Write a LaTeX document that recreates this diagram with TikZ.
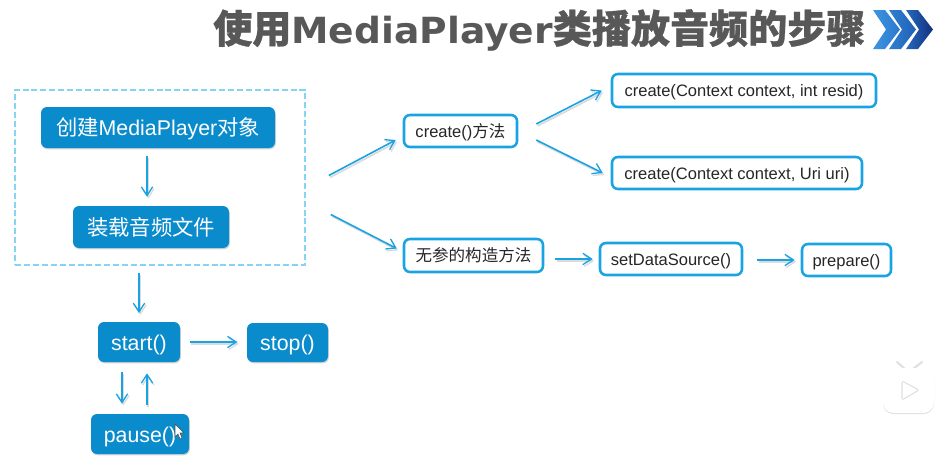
\documentclass[tikz,border=0pt]{standalone}
\usepackage{fontspec}
\setmainfont{Liberation Sans}
\newfontfamily\cjkfont{Noto Sans CJK SC}
\newfontfamily\titlecjk[BoldFeatures={FakeBold=0.8}]{Noto Sans CJK SC}
\newfontfamily\titlefont[FakeStretch=1.045]{DejaVu Sans Bold}
\usetikzlibrary{arrows.meta,shadows}
\definecolor{fillblue}{HTML}{0A8BCC}
\definecolor{lineblue}{HTML}{1AA3E3}
\definecolor{dashblue}{HTML}{85D3F5}
\definecolor{titlegray}{HTML}{585858}
\tikzset{
	>={Straight Barb[length=6.5pt,width=8.5pt,line width=1pt]},
	boxsize/.style 2 args={minimum width=#1*0.75pt,minimum height=#2*0.75pt,inner sep=0pt},
	solidbox/.style={rounded corners=4.5pt,fill=fillblue,text=white,text height=12pt,text depth=0pt,font=\fontsize{16}{18}\selectfont,
		drop shadow={shadow xshift=0.6pt,shadow yshift=-1pt,opacity=0.35}},
	linebox/.style={rounded corners=4.5pt,draw=lineblue,line width=1.9pt,fill=white,text=black!85,text height=9.5pt,text depth=0pt,
		font=\fontsize{12.4}{14}\selectfont},
	arrowline/.style={->,lineblue,line width=1.2pt,
		preaction={draw=black!14,line width=1.3pt,transform canvas={xshift=1pt,yshift=-1.4pt}}},
}
\begin{document}
\begin{tikzpicture}[x=0.75pt,y=-0.75pt]
	\useasboundingbox (0,0) rectangle (935,455);
	\node[anchor=west,text=titlegray,inner sep=0pt] (title) at (213,30) {\fontsize{29.3}{32}\selectfont\titlecjk\bfseries 使用{\fontsize{27}{32}\selectfont\titlefont MediaPlayer}类播放音频的步骤};
	\foreach \cx/\colleft/\colright in {873/3F95E0/2A78CC,889/2F80D2/2060B4,906/2668BC/14307F}{
		\definecolor{cleft}{HTML}{\colleft}
		\definecolor{cright}{HTML}{\colright}
		\shade[left color=cleft,right color=cright] (\cx,10) -- (\cx+12,10) -- (\cx+27,29.5) -- (\cx+12,49) -- (\cx,49) -- (\cx+13,29.5) -- cycle;
	}
	\node[boxsize={290}{175},draw=dashblue,line width=1.2pt,dash pattern=on 4.5pt off 2.2pt] (group) at (160,177.5) {};
	\node[solidbox,boxsize={234}{41}] (newplayer) at (158,127.5) {{\cjkfont 创建}MediaPlayer{\cjkfont 对象}};
	\node[solidbox,boxsize={156}{42}] (load) at (151,227) {\cjkfont 装载音频文件};
	\node[solidbox,boxsize={82}{40}] (start) at (139,342) {start()};
	\node[solidbox,boxsize={81}{39}] (stop) at (287.5,342.5) {stop()};
	\node[solidbox,boxsize={98}{40}] (pause) at (140,434) {pause()};
	\node[linebox,boxsize={113}{32}] (create) at (460.5,131) {create(){\cjkfont 方法}};
	\node[linebox,boxsize={264}{33}] (ctxres) at (744,90.5) {create(Context context, int resid)};
	\node[linebox,boxsize={250}{32}] (ctxuri) at (737,173) {create(Context context, Uri uri)};
	\node[linebox,boxsize={139}{33}] (noarg) at (473.5,255.5) {\cjkfont 无参的构造方法};
	\node[linebox,boxsize={142}{32}] (source) at (671,259) {setDataSource()};
	\node[linebox,boxsize={89}{32}] (prepare) at (846.5,260) {prepare()};
	\draw[arrowline] ([shift={(-11,8)}]newplayer.south) -- ([shift={(-4,-9)}]load.north);
	\draw[arrowline] ([yshift=-5.5pt]group.south -| start) -- ([yshift=6.5pt]start.north);
	\draw[arrowline] ([xshift=7pt]start.east |- start.center) -- ([xshift=-7pt]stop.west |- start.center);
	\draw[arrowline] ([shift={(-17,10)}]start.south) -- ([shift={(-18,-10)}]pause.north);
	\draw[arrowline] ([shift={(7,-9)}]pause.north) -- ([shift={(8,11)}]start.south);
	\draw[arrowline] ([shift={(23,-2)}]group.east) -- ([shift={(-7,9)}]create.west);
	\draw[arrowline] ([shift={(25,37)}]group.east) -- ([shift={(-6,-7)}]noarg.west);
	\draw[arrowline] ([shift={(18,-7)}]create.east) -- ([shift={(-9,0)}]ctxres.west);
	\draw[arrowline] ([shift={(18,9)}]create.east) -- ([shift={(-8,0)}]ctxuri.west);
	\draw[arrowline] ([shift={(11,3.5)}]noarg.east) -- ([shift={(-6,0)}]source.west);
	\draw[arrowline] ([shift={(14,1)}]source.east) -- ([shift={(-6,0)}]prepare.west);
	\fill[white,draw=black!70,line width=0.4pt] (175,424) -- (175,437) -- (178,434) -- (180,439) -- (182,438) -- (180,433) -- (184,433) -- cycle;
	\draw[black!12,line width=1.6pt,line cap=round] (897,362) -- (905,369) (922,362) -- (913,369);
	\node[boxsize={51}{45},rounded corners=8pt,fill=white,drop shadow={shadow xshift=0pt,shadow yshift=-0.8pt,opacity=0.25}] (tvbody) at (908.5,390.5) {};
	\fill[white,draw=black!12,line width=0.8pt,rounded corners=1.5pt] (902,381) -- (919,390) -- (902,400) -- cycle;
\end{tikzpicture}
\end{document}
